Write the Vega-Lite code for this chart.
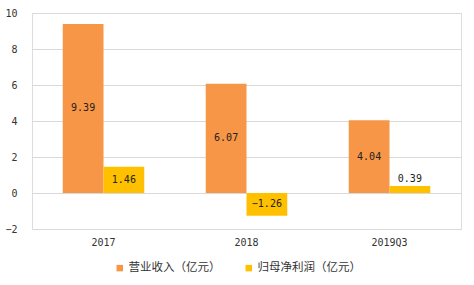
{
  "$schema": "https://vega.github.io/schema/vega-lite/v6.json",
  "autosize": {"type": "none"},
  "padding": {"left": 32, "top": 13, "right": 13, "bottom": 56},
  "width": 429,
  "height": 216,
  "background": "white",
  "data": {
    "values": [
      {"period": "2017", "series": "营业收入（亿元）", "value": 9.39},
      {"period": "2017", "series": "归母净利润（亿元）", "value": 1.46},
      {"period": "2018", "series": "营业收入（亿元）", "value": 6.07},
      {"period": "2018", "series": "归母净利润（亿元）", "value": -1.26},
      {"period": "2019Q3", "series": "营业收入（亿元）", "value": 4.04},
      {"period": "2019Q3", "series": "归母净利润（亿元）", "value": 0.39}
    ]
  },
  "encoding": {
    "x": {
      "field": "period",
      "type": "nominal",
      "sort": null,
      "scale": {"paddingInner": 0.43, "paddingOuter": 0.215},
      "axis": {
        "title": null,
        "labelAngle": 0,
        "domain": false,
        "ticks": false,
        "labelPadding": 8,
        "labelFont": "DejaVu Sans Mono",
        "labelFontSize": 10,
        "labelColor": "#333333"
      }
    },
    "xOffset": {
      "field": "series",
      "type": "nominal",
      "sort": ["营业收入（亿元）", "归母净利润（亿元）"],
      "scale": {"paddingInner": 0, "paddingOuter": 0}
    },
    "y": {
      "type": "quantitative",
      "scale": {"domain": [-2, 10], "nice": false, "zero": true},
      "axis": {
        "title": null,
        "values": [-2, 0, 2, 4, 6, 8, 10],
        "domain": false,
        "ticks": false,
        "grid": true,
        "gridColor": "#D9D9D9",
        "gridWidth": 1,
        "labelOverlap": false,
        "labelFlush": false,
        "labelPadding": 15,
        "labelFont": "DejaVu Sans Mono",
        "labelFontSize": 10,
        "labelColor": "#333333"
      }
    }
  },
  "layer": [
    {
      "mark": {"type": "bar"},
      "encoding": {
        "y": {"field": "value"},
        "color": {
          "field": "series",
          "type": "nominal",
          "sort": ["营业收入（亿元）", "归母净利润（亿元）"],
          "scale": {"range": ["#F79646", "#FFC000"]},
          "legend": {
            "title": null,
            "orient": "none",
            "direction": "horizontal",
            "legendX": 82,
            "legendY": 249,
            "symbolType": "square",
            "symbolSize": 42,
            "symbolStrokeWidth": 0,
            "symbolOpacity": 1,
            "labelFont": "Noto Sans CJK SC",
            "labelFontSize": 11.5,
            "labelColor": "#333333",
            "labelOffset": 3,
            "columnPadding": 22,
            "labelLimit": 200
          }
        }
      }
    },
    {
      "transform": [
        {"filter": "abs(datum.value) >= 0.5"},
        {"calculate": "datum.value / 2", "as": "mid"}
      ],
      "mark": {"type": "text", "font": "DejaVu Sans Mono", "fontSize": 10, "color": "#222222", "baseline": "middle"},
      "encoding": {
        "y": {"field": "mid"},
        "text": {"field": "value", "type": "quantitative", "format": ".2f"}
      }
    },
    {
      "transform": [{"filter": "abs(datum.value) < 0.5"}],
      "mark": {"type": "text", "font": "DejaVu Sans Mono", "fontSize": 10, "color": "#222222", "baseline": "bottom", "dy": -2},
      "encoding": {
        "y": {"field": "value"},
        "text": {"field": "value", "type": "quantitative", "format": ".2f"}
      }
    }
  ]
}
